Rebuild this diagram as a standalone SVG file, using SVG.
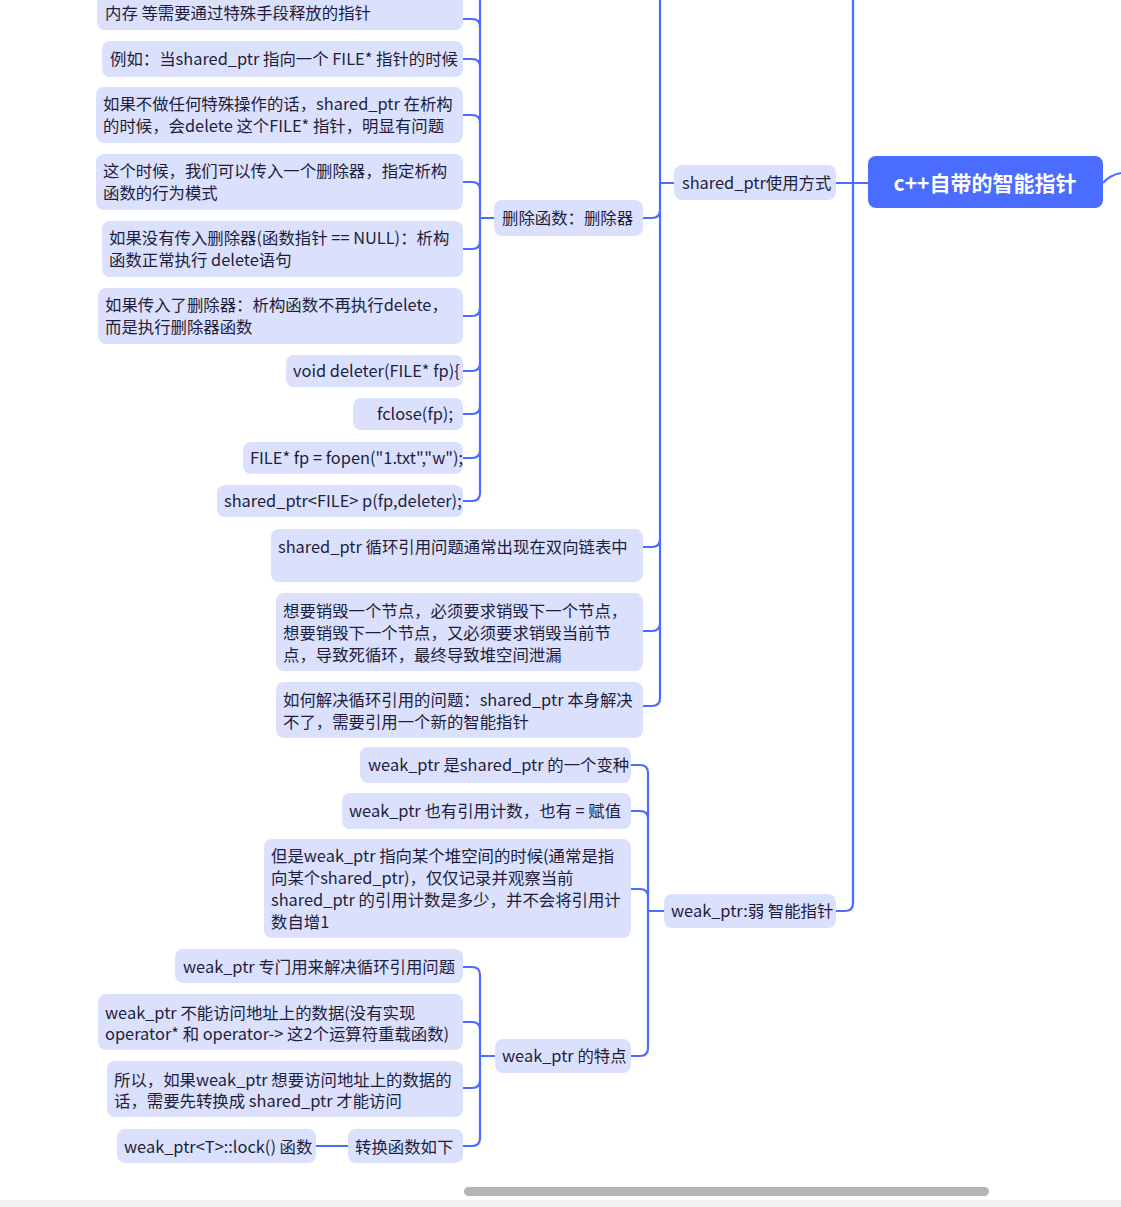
<svg xmlns="http://www.w3.org/2000/svg" width="1121" height="1207" viewBox="0 0 1121 1207">
<style>
.n{fill:#dbe1fd}
.t{font-family:"Noto Sans CJK SC","Liberation Sans",sans-serif;font-size:16.4px;fill:#1e1e3c}
.r{font-family:"Noto Sans CJK SC","Liberation Sans",sans-serif;font-size:21px;font-weight:bold;fill:#fff}
.c{fill:none;stroke:#4d6bfe;stroke-width:2.2}
</style>
<rect width="1121" height="1207" fill="#fff"/>
<g id="connectors" class="c">
<path d="M480,0 V493 M463,19 H472 Q480,19 480,27 M463,59 H472 Q480,59 480,67 M463,115 H472 Q480,115 480,123 M463,182 H472 Q480,182 480,190 M480,218 H494 M463,249 H472 Q480,249 480,241 M463,316 H472 Q480,316 480,308 M463,371 H472 Q480,371 480,363 M463,414 H472 Q480,414 480,406 M463,458 H472 Q480,458 480,450 M463,501 H472 Q480,501 480,493"/>
<path d="M660,0 V698 M643,218 H652 Q660,218 660,210 M660,183 H674 M643,547 H652 Q660,547 660,539 M643,631 H652 Q660,631 660,623 M643,706 H652 Q660,706 660,698"/>
<path d="M853,0 V903 M836,183 H868 M836,911 H845 Q853,911 853,903"/>
<path d="M1103,183 Q1110,175 1121,173"/>
<path d="M648,773 V1048 M631,765 H640 Q648,765 648,773 M631,811 H640 Q648,811 648,819 M631,889 H640 Q648,889 648,897 M648,911 H664 M631,1056 H640 Q648,1056 648,1048"/>
<path d="M480,975 V1138 M463,967 H472 Q480,967 480,975 M463,1022 H472 Q480,1022 480,1030 M480,1056 H495 M463,1088 H472 Q480,1088 480,1080 M463,1146 H472 Q480,1146 480,1138 M316,1146 H348"/>
</g>
<g id="n1"><rect class="n" x="97" y="-8" width="366" height="38" rx="8"/><text class="t" x="105" y="19">内存 等需要通过特殊手段释放的指针</text></g>
<g id="n2"><rect class="n" x="102" y="41" width="361" height="36" rx="8"/><text class="t" x="110" y="65">例如：当shared_ptr 指向一个 FILE* 指针的时候</text></g>
<g id="n3"><rect class="n" x="96" y="87" width="367" height="56" rx="8"/><text class="t" x="103" y="110">如果不做任何特殊操作的话，shared_ptr 在析构</text><text class="t" x="103" y="132">的时候，会delete 这个FILE* 指针，明显有问题</text></g>
<g id="n4"><rect class="n" x="96" y="154" width="367" height="56" rx="8"/><text class="t" x="103" y="177">这个时候，我们可以传入一个删除器，指定析构</text><text class="t" x="103" y="199">函数的行为模式</text></g>
<g id="n5"><rect class="n" x="102" y="221" width="361" height="56" rx="8"/><text class="t" x="109" y="244">如果没有传入删除器(函数指针 == NULL)：析构</text><text class="t" x="109" y="266">函数正常执行 delete语句</text></g>
<g id="n6"><rect class="n" x="98" y="288" width="365" height="56" rx="8"/><text class="t" x="105" y="311">如果传入了删除器：析构函数不再执行delete，</text><text class="t" x="105" y="333">而是执行删除器函数</text></g>
<g id="n7"><rect class="n" x="286" y="355" width="177" height="32" rx="8"/><text class="t" x="293" y="377">void deleter(FILE* fp){</text></g>
<g id="n8"><rect class="n" x="353" y="398" width="110" height="32" rx="8"/><text class="t" x="377" y="420">fclose(fp);</text></g>
<g id="n9"><rect class="n" x="243" y="442" width="220" height="32" rx="8"/><text class="t" x="250" y="464">FILE* fp = fopen("1.txt","w");</text></g>
<g id="n10"><rect class="n" x="217" y="485" width="246" height="32" rx="8"/><text class="t" x="224" y="507">shared_ptr&lt;FILE&gt; p(fp,deleter);</text></g>
<g id="del"><rect class="n" x="494" y="200" width="149" height="36" rx="8"/><text class="t" x="502" y="224">删除函数：删除器</text></g>
<g id="n11"><rect class="n" x="271" y="529" width="372" height="53" rx="8"/><text class="t" x="278" y="553">shared_ptr 循环引用问题通常出现在双向链表中</text></g>
<g id="n12"><rect class="n" x="276" y="593" width="367" height="78" rx="8"/><text class="t" x="283" y="617">想要销毁一个节点，必须要求销毁下一个节点，</text><text class="t" x="283" y="639">想要销毁下一个节点，又必须要求销毁当前节</text><text class="t" x="283" y="661">点，导致死循环，最终导致堆空间泄漏</text></g>
<g id="n13"><rect class="n" x="276" y="682" width="367" height="56" rx="8"/><text class="t" x="283" y="706">如何解决循环引用的问题：shared_ptr 本身解决</text><text class="t" x="283" y="728">不了，需要引用一个新的智能指针</text></g>
<g id="sp"><rect class="n" x="674" y="165" width="162" height="35" rx="8"/><text class="t" x="682" y="189">shared_ptr使用方式</text></g>
<g id="root"><rect x="868" y="156" width="235" height="52" rx="8" fill="#4a6cff"/><text class="r" x="985" y="191" text-anchor="middle">c++自带的智能指针</text></g>
<g id="w1"><rect class="n" x="360" y="747" width="271" height="36" rx="8"/><text class="t" x="368" y="771">weak_ptr 是shared_ptr 的一个变种</text></g>
<g id="w2"><rect class="n" x="342" y="793" width="289" height="36" rx="8"/><text class="t" x="349" y="817">weak_ptr 也有引用计数，也有 = 赋值</text></g>
<g id="w3"><rect class="n" x="264" y="839" width="367" height="99" rx="8"/><text class="t" x="271" y="862">但是weak_ptr 指向某个堆空间的时候(通常是指</text><text class="t" x="271" y="884">向某个shared_ptr)，仅仅记录并观察当前</text><text class="t" x="271" y="906">shared_ptr 的引用计数是多少，并不会将引用计</text><text class="t" x="271" y="928">数自增1</text></g>
<g id="weak"><rect class="n" x="664" y="894" width="172" height="34" rx="8"/><text class="t" x="671" y="917">weak_ptr:弱 智能指针</text></g>
<g id="wf"><rect class="n" x="495" y="1039" width="136" height="34" rx="8"/><text class="t" x="502" y="1062">weak_ptr 的特点</text></g>
<g id="f1"><rect class="n" x="175" y="949" width="288" height="34" rx="8"/><text class="t" x="183" y="973">weak_ptr 专门用来解决循环引用问题</text></g>
<g id="f2"><rect class="n" x="98" y="994" width="365" height="56" rx="8"/><text class="t" x="105" y="1019">weak_ptr 不能访问地址上的数据(没有实现</text><text class="t" x="105" y="1040">operator* 和 operator-&gt; 这2个运算符重载函数)</text></g>
<g id="f3"><rect class="n" x="107" y="1061" width="356" height="56" rx="8"/><text class="t" x="114" y="1086">所以，如果weak_ptr 想要访问地址上的数据的</text><text class="t" x="114" y="1107">话，需要先转换成 shared_ptr 才能访问</text></g>
<g id="f4"><rect class="n" x="348" y="1129" width="115" height="34" rx="8"/><text class="t" x="355" y="1153">转换函数如下</text></g>
<g id="f5"><rect class="n" x="117" y="1129" width="199" height="34" rx="8"/><text class="t" x="124" y="1153">weak_ptr&lt;T&gt;::lock() 函数</text></g>
<rect x="0" y="1200" width="1121" height="7" fill="#f0f1f3"/>
<rect x="464" y="1187" width="525" height="9" rx="4.5" fill="#b4b4b4"/>
</svg>
